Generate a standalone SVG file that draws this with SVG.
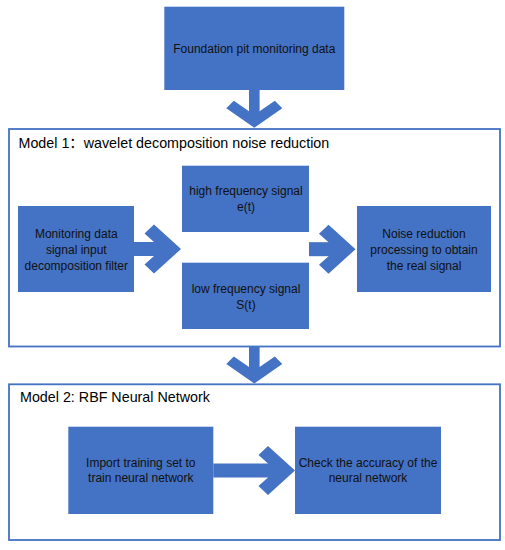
<svg xmlns="http://www.w3.org/2000/svg" width="505" height="550" viewBox="0 0 505 550">
<style>
.frame{fill:#ffffff;stroke:#4472C4;stroke-width:1.8}
.box{fill:#4472C4}
.t{font-family:"Liberation Sans","Noto Sans CJK SC",Arial,sans-serif;font-size:12px;fill:#111111;text-anchor:middle}
.title{font-family:"Liberation Sans","Noto Sans CJK SC",Arial,sans-serif;font-size:14.3px;fill:#000000}
.arrow{fill:#4472C4}
</style>
<defs>
<path id="headR" d="M0,0 L-27,-24.5 L-36.5,-15.5 L-27,-7 L-27,7 L-36.5,15.5 L-27,24.5 Z"/>
<path id="headD" d="M0,0 L-28,-19.5 L-20.5,-27 L-5.3,-16.4 L5.3,-16.4 L20.5,-27 L28,-19.5 Z"/>
</defs>
<rect width="505" height="550" fill="#ffffff"/>

<g id="model1">
<rect class="frame" x="9" y="129" width="491" height="217.5"/>
<text class="title" x="18.5" y="147.5">Model 1：wavelet decomposition noise reduction</text>
</g>
<g id="model2">
<rect class="frame" x="9" y="384.3" width="491" height="155.7"/>
<text class="title" x="20" y="402">Model 2: RBF Neural Network</text>
</g>

<g id="foundation">
<rect class="box" x="164.3" y="6.7" width="180" height="83.3"/>
<text class="t" x="254.3" y="53">Foundation pit monitoring data</text>
</g>
<g id="input">
<rect class="box" x="18" y="206" width="116" height="86"/>
<text class="t" x="76.3" y="238.3">Monitoring data</text>
<text class="t" x="76.3" y="254">signal input</text>
<text class="t" x="76.3" y="269.5">decomposition filter</text>
</g>
<g id="high">
<rect class="box" x="182" y="165.7" width="127" height="66.3"/>
<text class="t" x="246" y="195">high frequency signal</text>
<text class="t" x="246" y="210.7">e(t)</text>
</g>
<g id="low">
<rect class="box" x="182" y="262.7" width="127" height="66.3"/>
<text class="t" x="246" y="293.3">low frequency signal</text>
<text class="t" x="246" y="309.3">S(t)</text>
</g>
<g id="denoise">
<rect class="box" x="357" y="206" width="134" height="86"/>
<text class="t" x="424" y="238.3">Noise reduction</text>
<text class="t" x="424" y="254">processing to obtain</text>
<text class="t" x="424" y="269.5">the real signal</text>
</g>
<g id="train">
<rect class="box" x="68.3" y="426.7" width="145" height="87.3"/>
<text class="t" x="140.8" y="467.3">Import training set to</text>
<text class="t" x="140.8" y="482.3">train neural network</text>
</g>
<g id="check">
<rect class="box" x="295" y="426.7" width="146" height="87.3"/>
<text class="t" x="368" y="467.3">Check the accuracy of the</text>
<text class="t" x="368" y="482.3">neural network</text>
</g>

<g id="connectors" class="arrow">
<rect x="249" y="90" width="10.6" height="24"/>
<use href="#headD" transform="translate(254.3,127.7)"/>
<rect x="249" y="346.5" width="10.6" height="24"/>
<use href="#headD" transform="translate(254.3,383.5)"/>
<rect x="134" y="242" width="24" height="14"/>
<use href="#headR" transform="translate(181,249)"/>
<rect x="309" y="242.2" width="24" height="14"/>
<use href="#headR" transform="translate(355.5,249.2)"/>
<rect x="213.3" y="463.5" width="58" height="14"/>
<use href="#headR" transform="translate(295,470.5)"/>
</g>
</svg>
